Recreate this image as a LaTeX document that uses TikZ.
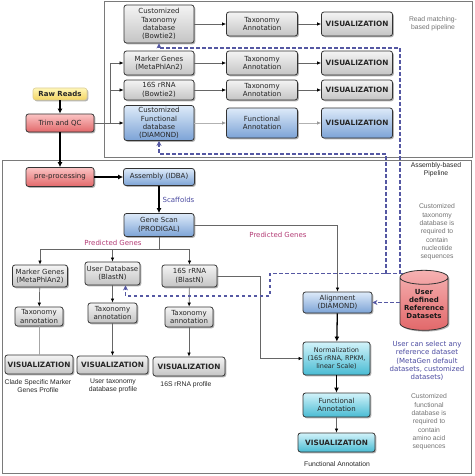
\documentclass[tikz,border=0pt]{standalone}
\usepackage{fontspec}
\usetikzlibrary{arrows.meta,shadows,shapes.geometric}
\newfontfamily\boxfont{DejaVu Sans}
\newfontfamily\notefont{Liberation Sans}
\definecolor{dashblue}{HTML}{5558A3}
\definecolor{predcol}{HTML}{B23A74}
\definecolor{scafcol}{HTML}{4A4AA0}
\definecolor{framegray}{HTML}{7A7A7A}
\definecolor{grayA}{HTML}{F4F4F4}
\definecolor{grayB}{HTML}{C4C4C4}
\definecolor{blueA}{HTML}{DDEAF9}
\definecolor{blueB}{HTML}{7CA3D6}
\definecolor{redA}{HTML}{FBC4C4}
\definecolor{redB}{HTML}{E2686A}
\definecolor{yelA}{HTML}{FFF7B8}
\definecolor{yelB}{HTML}{F3D462}
\definecolor{cyanA}{HTML}{D2F3FA}
\definecolor{cyanB}{HTML}{48BBD3}
\tikzset{
	box/.style={draw=black!80,line width=0.8pt,rounded corners=2.5pt,align=center,inner sep=1pt,
		text=black!85,font=\boxfont\fontsize{7}{8.3}\selectfont,
		drop shadow={shadow xshift=1.3pt,shadow yshift=-1.3pt,opacity=0.3,fill=black}},
	graybox/.style={box,top color=grayA,bottom color=grayB},
	bluebox/.style={box,top color=blueA,bottom color=blueB},
	redbox/.style={box,top color=redA,bottom color=redB},
	cyanbox/.style={box,top color=cyanA,bottom color=cyanB},
	yelbox/.style={box,draw=yelB!80!black!60,line width=0.6pt,top color=yelA,bottom color=yelB},
	sz/.style 2 args={minimum width=#1pt,minimum height=#2pt},
	bold/.style={font=\boxfont\bfseries\fontsize{7.3}{8.3}\selectfont},
	note/.style={align=center,inner sep=0pt,font=\notefont\fontsize{6.8}{8.3}\selectfont,text=black!55},
	lab/.style={note,text=black!85},
	flow/.style={draw=black!60,line width=0.7pt,-{Latex[length=4pt,width=3.6pt,color=black]}},
	paleflow/.style={draw=black!30,line width=0.7pt,-{Latex[length=4pt,width=3.6pt,color=black!40]}},
	thickflow/.style={draw=black,line width=1.3pt,-{Latex[length=5pt,width=5pt]}},
	dashlink/.style={draw=dashblue,line width=1.1pt,dash pattern=on 3.5pt off 2.5pt},
	dashtip/.style={dashlink,-{Stealth[length=5pt,width=5pt,inset=1.5pt]}},
}
\begin{document}
\begin{tikzpicture}[x=1pt,y=-1pt]
	\useasboundingbox (0,0) rectangle (474,476);

	\draw[framegray,line width=0.9pt] (104,1) rectangle (472,157);
	\draw[framegray,line width=0.9pt] (2,160) rectangle (471,473);

	% read matching part
	\node[graybox,sz={70}{38}] (ctaxdb) at (159,24) {Customized\\Taxonomy\\database\\(Bowtie2)};
	\node[graybox,sz={70}{24}] (mga) at (159,63) {Marker Genes\\(MetaPhlAn2)};
	\node[graybox,sz={70}{20}] (rsa) at (159,90) {16S rRNA\\(Bowtie2)};
	\node[bluebox,sz={70}{35}] (cfundb) at (159,123) {Customized\\Functional\\database\\(DIAMOND)};
	\foreach \y/\h/\n in {24/24/1,63/24/2,90/20/3} {
		\node[graybox,sz={71}{\h}] (tax\n) at (262,\y) {Taxonomy\\Annotation};
		\node[graybox,bold,sz={71}{\h}] (vis\n) at (357,\y) {VISUALIZATION};
	}
	\node[bluebox,sz={71}{30}] (funa) at (262,123) {Functional\\Annotation};
	\node[bluebox,bold,sz={71}{30}] (vis4) at (357,123) {VISUALIZATION};
	\node[yelbox,bold,font=\boxfont\bfseries\fontsize{7}{8}\selectfont,sz={54}{12}] (raw) at (60,94) {Raw Reads};
	\node[redbox,sz={68}{18}] (trim) at (60,123) {Trim and QC};
	\node[note] (rmnote) at (433,24) {Read matching-\\based pipeline};

	\draw[flow] (ctaxdb) -- (tax1);
	\draw[flow] (mga) -- (tax2);
	\draw[flow] (rsa) -- (tax3);
	\draw[paleflow] (cfundb) -- (funa);
	\foreach \n in {1,2,3} {
		\draw[flow] (tax\n) -- (vis\n);
	}
	\draw[paleflow] (funa) -- (vis4);
	\draw[thickflow] (raw) -- (trim);
	\coordinate (trimbr) at (110,123);
	\draw[flow,-] (trim) -- (trimbr);
	\draw[flow] (trimbr) |- (mga);
	\draw[flow] (trimbr) |- (rsa);
	\draw[flow] (trimbr) -- (cfundb);

	% assembly part
	\node[redbox,sz={68}{19}] (pre) at (60,177) {pre-processing};
	\node[bluebox,sz={71}{17}] (asm) at (159,177) {Assembly (IDBA)};
	\node[bluebox,sz={70}{23}] (gscan) at (159,225) {Gene Scan\\(PRODIGAL)};
	\node[graybox,sz={55}{22}] (mgb) at (40,276) {Marker Genes\\(MetaPhlAn2)};
	\node[graybox,sz={55}{23}] (udb) at (112.5,273.5) {User Database\\(BlastN)};
	\node[graybox,sz={55}{22}] (rsb) at (189.5,276) {16S rRNA\\(BlastN)};
	\node[graybox,sz={48}{19}] (tax4) at (39,316.5) {Taxonomy\\annotation};
	\node[graybox,sz={49}{20}] (tax5) at (112.5,313) {Taxonomy\\annotation};
	\node[graybox,sz={48}{20}] (tax6) at (189,317) {Taxonomy\\annotation};
	\node[graybox,bold,sz={68}{19}] (vis5) at (39,364.5) {VISUALIZATION};
	\node[graybox,bold,sz={71}{18}] (vis6) at (112.5,365) {VISUALIZATION};
	\node[graybox,bold,sz={72}{19}] (vis7) at (189,366.5) {VISUALIZATION};
	\node[bluebox,sz={69}{21}] (aln) at (337.5,302.5) {Alignment\\(DIAMOND)};
	\node[cyanbox,font=\boxfont\fontsize{6.5}{8.3}\selectfont,sz={67}{33}] (norm) at (336.5,358.5) {Normalization\\(16S rRNA, RPKM,\\linear Scale)};
	\node[cyanbox,sz={67}{24}] (fann) at (336.5,405) {Functional\\Annotation};
	\node[cyanbox,bold,sz={77}{19}] (vis8) at (336.5,442.5) {VISUALIZATION};
	\node[cylinder,shape border rotate=90,aspect=0.35,draw=black!80,line width=0.8pt,
		top color=redA!80!redB,bottom color=redB,minimum width=48pt,minimum height=60pt,inner sep=0pt,
		align=center,text=black!90,font=\boxfont\bfseries\fontsize{7}{8.3}\selectfont,
		drop shadow={shadow xshift=1.3pt,shadow yshift=-1.3pt,opacity=0.3,fill=black}]
		(refdb) at (424,304) {User\\defined\\Reference\\Datasets};

	\node[note,text=black!85] (abnote) at (436,170) {Assembly-based\\Pipeline};
	\node[note] (taxnote) at (437,232) {Customized\\taxonomy\\database is\\required to\\contain\\nucleotide\\sequences};
	\node[note,font=\boxfont\fontsize{7}{8.3}\selectfont,text=scafcol] (selnote) at (427,361) {User can select any\\reference dataset\\(MetaGen default\\datasets, customized\\datasets)};
	\node[note] (funnote) at (429,422) {Customized\\functional\\database is\\required to\\contain\\amino acid\\sequences};
	\node[lab] (cladelab) at (38,386) {Clade Specific Marker\\Genes Profile};
	\node[lab] (udblab) at (113,386) {User taxonomy\\database profile};
	\node[lab] (rslab) at (186,385) {16S rRNA profile};
	\node[lab] (funlab) at (337,464) {Functional Annotation};

	\draw[thickflow] (trim) -- (pre);
	\draw[thickflow] (pre) -- (asm);
	\draw[thickflow] (asm) -- node[right,font=\boxfont\fontsize{7}{8}\selectfont,text=scafcol,inner sep=3pt] (scaflab) {Scaffolds} (gscan);
	\coordinate (genebr) at (159,249);
	\draw[flow,-] (gscan) -- (genebr);
	\draw[flow] (genebr) -| (mgb);
	\draw[flow] (genebr) -| (udb);
	\draw[flow] (genebr) -| (rsb);
	\node[font=\boxfont\fontsize{7}{8}\selectfont,text=predcol,inner sep=0pt] (predlaba) at (113,243) {Predicted Genes};
	\draw[flow] (gscan) -| (aln);
	\node[font=\boxfont\fontsize{7}{8}\selectfont,text=predcol,inner sep=0pt] (predlabb) at (278,235) {Predicted Genes};
	\draw[flow] (mgb) -- (tax4);
	\draw[flow] (udb) -- (tax5);
	\draw[flow] (rsb) -- (tax6);
	\draw[draw=black!35,line width=0.7pt] (tax4) -- (vis5);
	\draw[flow] (tax5) -- (vis6);
	\draw[flow] (tax6) -- (vis7);
	\coordinate (rsbr) at (260,276);
	\draw[flow] (rsb) -- (rsbr) |- (norm);
	\draw[thickflow] (aln) -- (norm);
	\draw[thickflow] (norm) -- (fann);
	\draw[flow] (fann) -- (vis8);

	% reference datasets
	\coordinate (dcorner) at (270,296);
	\coordinate (dfun) at (386,154);
	\coordinate (dtax) at (400,48);
	\draw[dashtip] (refdb.west |- aln) -- (aln);
	\draw[dashtip] (refdb.125) -| (dcorner) -| ([xshift=13pt]udb.south);
	\draw[dashtip] (refdb.125 -| dfun) -- (dfun) -| (cfundb.south);
	\draw[dashtip] (refdb.125 -| dtax) -- (dtax) -| (ctaxdb.south);
\end{tikzpicture}
\end{document}
